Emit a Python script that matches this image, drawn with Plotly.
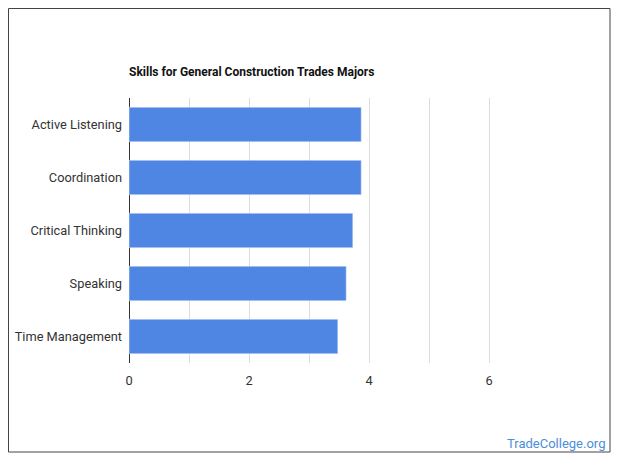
import plotly.graph_objects as go

skills = ['Active Listening', 'Coordination', 'Critical Thinking', 'Speaking', 'Time Management']
scores = [3.87, 3.87, 3.73, 3.62, 3.48]

fig = go.Figure(go.Bar(
    x=scores, y=skills, orientation='h',
    marker=dict(color='#5086e3'),
    width=0.65,
))

# page body adds an 8px margin, so the figure is laid out 8px up-left
fig.update_layout(
    width=604, height=449,
    margin=dict(l=121, r=63, t=90, b=94),
    paper_bgcolor='white', plot_bgcolor='white',
    font=dict(family='Roboto', size=12.8, color='#333333'),
    showlegend=False,
    title=dict(text='<b>Skills for General Construction Trades Majors</b>',
               x=121 / 604, xanchor='left', y=1 - 64 / 449, yanchor='middle',
               font=dict(size=12, color='#111111')),
    shapes=[dict(type='rect', xref='paper', yref='paper',
                 x0=-120.5 / 420, x1=1 + 61 / 420, y0=-89 / 265, y1=1 + 89.5 / 265,
                 line=dict(color='#444444', width=1))],
    annotations=[dict(text='TradeCollege.org', xref='paper', yref='paper',
                      x=1 + 58 / 420, y=-80 / 265, xanchor='right', yanchor='middle',
                      showarrow=False, font=dict(size=13, color='#4a8fd8'))],
)
fig.update_xaxes(range=[0, 7], tickvals=[0, 2, 4, 6], automargin=False,
                 showgrid=True, gridcolor='#dddddd', zeroline=True,
                 zerolinecolor='#333333', zerolinewidth=1, ticks='',
                 ticklabelstandoff=8,
                 minor=dict(dtick=1, showgrid=True, gridcolor='#dddddd'))
fig.update_yaxes(autorange='reversed', ticks='', ticklabelstandoff=6, automargin=False)

fig.write_html("out.html")
